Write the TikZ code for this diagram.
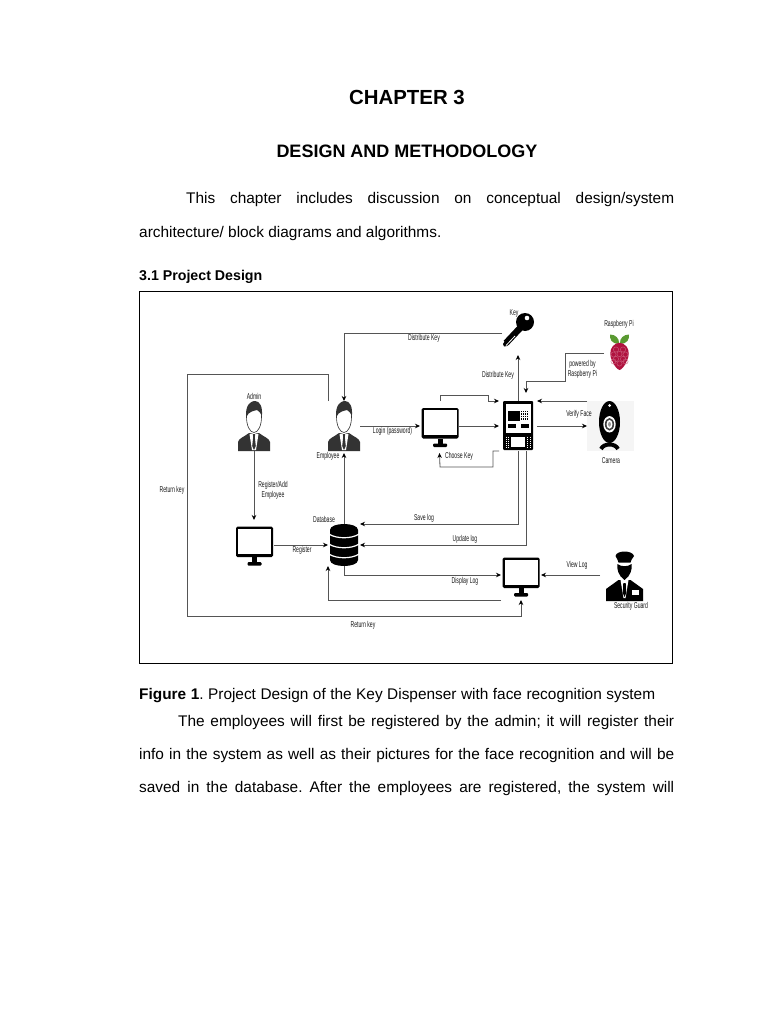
\documentclass[tikz,border=0pt]{standalone}
\usepackage{fontspec}
\setmainfont{Liberation Sans}
\newfontfamily\narrowfont[FakeStretch=0.6]{Liberation Sans}
\usetikzlibrary{positioning, arrows.meta, calc}
\definecolor{suit}{HTML}{333333}
\definecolor{wire}{HTML}{555555}
\definecolor{berry}{HTML}{B0123F}
\definecolor{leaf}{HTML}{5A9A32}
\frenchspacing

% Icons
\tikzset{
  person/.pic={
    \fill [suit] (-16,25) -- (-16,16) .. controls (-15,12) and (-10,11) .. (-5,7) -- (5,7) .. controls (10,11) and (15,12) .. (16,16) -- (16,25) -- cycle;
    \fill [white] (-4.5,8) -- (0,7) -- (4.5,8) -- (2,24) -- (-2,24) -- cycle;
    \fill [suit] (-1.2,8) -- (1.2,8) -- (0.8,11) -- (1.8,20) -- (0,24) -- (-1.8,20) -- (-0.8,11) -- cycle;
    \draw [suit, fill=white, line width=.6] (0,-9) ellipse (7.5 and 15.5);
    \fill [suit] (-7.8,-9) .. controls (-9,-20) and (-4,-25) .. (1,-25) .. controls (6,-25) and (9,-19) .. (7.8,-9) .. controls (7,-13) and (5,-15) .. (3,-16) .. controls (0,-15) and (-5,-15) .. cycle;
  },
  screen/.pic={
    \fill [black, rounded corners=1.5] (-18.5,-19.5) rectangle (18.5,11);
    \fill [white] (-16.5,-17.5) rectangle (16.5,7.5);
    \fill [black] (-2.5,11) rectangle (2.5,16);
    \fill [black, rounded corners=1] (-7,16) rectangle (7,19.5);
  },
  drum/.pic={
    \fill [black] (-14,-15) .. controls (-14,-23) and (14,-23) .. (14,-15) -- (14,15) .. controls (14,23) and (-14,23) .. (-14,15) -- cycle;
    \foreach \rowy in {-11,-1,9} {
      \draw [white, line width=1.2] (-15,\rowy) .. controls (-8,\rowy+5) and (8,\rowy+5) .. (15,\rowy);
    }
  },
  dispenser/.pic={
    \fill [black, rounded corners=1] (-15,-24.5) rectangle (15,24.5);
    \fill [white] (-12.5,-21.5) rectangle (12.5,7);
    \fill [black] (-10,-15) rectangle (2,-5);
    \foreach \dotx in {3,5,7,9} {
      \foreach \doty in {-15,-12.5,-10,-7.5} {
        \fill [black] (\dotx,\doty) rectangle ++(1.3,1.6);
      }
    }
    \fill [black] (-10,-2) rectangle (-2,2);
    \fill [black] (3,-2) rectangle (11,2);
    \fill [white] (-7,11) rectangle (7,21);
    \foreach \dotx in {-12,-9.5,9.5,12} {
      \draw [white, line width=.5, dash pattern=on 1pt off 1pt] (\dotx,11) -- (\dotx,23);
    }
  },
  keyicon/.pic={
    \draw [black, line width=6.5] (4,-5) -- (-12,12);
    \fill [black] (-12.5,9) -- (-15,13) -- (-14,15.5) -- (-11,15) -- (-8,12) -- cycle;
    \draw [white, line width=.8] (-12,14.5) -- (-3,5);
    \fill [black] (7,-9) circle (9);
    \fill [white] (9,-13) circle (2.3);
  },
  berries/.pic={
    \fill [leaf] (-.5,-9) .. controls (-8,-8) and (-10,-14) .. (-9.5,-18) .. controls (-4,-18) and (0,-14) .. (-.5,-9);
    \fill [leaf] (.5,-9) .. controls (8,-8) and (10,-14) .. (9.5,-18) .. controls (4,-18) and (0,-14) .. (.5,-9);
    \fill [berry] (-7,-6) .. controls (-3,-11) and (3,-11) .. (7,-6) .. controls (10,-2) and (10,4) .. (7,9) .. controls (5,14) and (2,17) .. (0,17.5) .. controls (-2,17) and (-5,14) .. (-7,9) .. controls (-10,4) and (-10,-2) .. (-7,-6);
    \foreach \dotx/\doty in {-3.5/-3,3.5/-3,0/1.5,-6/2,6/2,-3.5/6.5,3.5/6.5,0/11,-6/9,6/9} {
      \draw [white!35!berry, line width=.4] (\dotx,\doty) circle (2.6);
    }
  },
  webcam/.pic={
    \fill [black!4] (-23.5,-25) rectangle (23.5,25);
    \draw [black, line width=4] (-9.5,23) .. controls (-7,17) and (5,17) .. (7.5,23);
    \fill [black] (-1,-4) ellipse (10.5 and 21);
    \fill [white] (-1,-20.5) circle (1.5);
    \fill [white] (-1,-1.7) ellipse (6.2 and 8.2);
    \fill [black!75] (-1,-1.7) ellipse (4.6 and 6.3);
    \fill [white] (-1,-1.7) ellipse (3 and 4.4);
    \fill [black!40] (-1,-1.7) ellipse (1.4 and 2.4);
  },
  guard/.pic={
    \fill [black] (-18.5,26) -- (-18.5,14) -- (-6,5) -- (6,5) -- (18.5,14) -- (18.5,26) -- cycle;
    \fill [white] (-4,5) -- (4,5) -- (1,23) -- (-1,23) -- cycle;
    \fill [black] (-1.2,8) -- (1.2,8) -- (1.7,18) -- (0,22) -- (-1.7,18) -- cycle;
    \fill [black] (-7,-11) .. controls (-8,-6) and (-6,1) .. (0,5) .. controls (6,1) and (8,-6) .. (7,-11) .. controls (3,-8) and (-3,-8) .. cycle;
    \fill [black] (-9,-19) .. controls (-8,-25) and (8,-25) .. (9.5,-19) .. controls (8,-16) and (6,-15) .. (6,-12.5) -- (-6,-12.5) .. controls (-6,-15) and (-8,-16) .. cycle;
    \fill [white] (7,15) rectangle (14.5,20);
  }
}

\begin{document}
\begin{tikzpicture}[x=1pt, y=-1pt]
% Define styles
\tikzstyle{iconbox} = [rectangle, inner sep=0pt, outer sep=0pt, minimum width=32pt, minimum height=50pt]
\tikzstyle{arrow} = [line width=.8pt, wire, -{Stealth[length=5pt, width=4.5pt, black]}]
\tikzstyle{tag} = [inner sep=0pt, text=black!90, align=center, font=\narrowfont\fontsize{8.5}{10}\selectfont]
\tikzstyle{bodyline} = [anchor=base west, inner sep=0pt, font=\fontsize{15.4}{18}\selectfont]

\useasboundingbox (0,0) rectangle (768,1024);
\fill [white] (0,0) rectangle (768,1024);

% Page text
\node (chapter) [inner sep=0pt, font=\bfseries\fontsize{20.4}{24}\selectfont] at (407,97) {CHAPTER 3};
\node (heading) [inner sep=0pt, font=\bfseries\fontsize{18}{21}\selectfont] at (407,151) {DESIGN AND METHODOLOGY};
\node (lineone) [bodyline] at (186,204) {\makebox[488pt][s]{This chapter includes discussion on conceptual design/system}};
\node (linetwo) [bodyline] at (139,237) {architecture/ block diagrams and algorithms.};
\node (section) [bodyline, font=\bfseries\fontsize{14.2}{17}\selectfont] at (139,280) {3.1 Project Design};
\node (caption) [bodyline] at (139,699) {\makebox[516pt][s]{\textbf{Figure 1}. Project Design of the Key Dispenser with face recognition system}};
\node (linethree) [bodyline] at (178,726) {\makebox[496pt][s]{The employees will first be registered by the admin; it will register their}};
\node (linefour) [bodyline] at (139,759) {\makebox[535pt][s]{info in the system as well as their pictures for the face recognition and will be}};
\node (linefive) [bodyline] at (139,792) {\makebox[535pt][s]{saved in the database. After the employees are registered, the system will}};

% Figure frame
\node (frame) [draw=black, line width=1pt, inner sep=0pt, minimum width=533pt, minimum height=372pt] at (405.5,477) {};

% Icon places
\node (admin) [iconbox] at (254,426) {};
\node (employee) [iconbox] at (344,426) {};
\node (adminscreen) [iconbox, minimum width=40pt] at (254,545) {};
\node (database) [iconbox, minimum height=42pt] at (344,545) {};
\node (keyscreen) [iconbox, minimum width=39pt, minimum height=54pt] at (439.5,426) {};
\node (kiosk) [iconbox, minimum width=38pt] at (518,426) {};
\node (key) [iconbox, minimum height=44pt] at (518,333) {};
\node (raspberry) [iconbox, minimum width=30pt] at (619,353) {};
\node (camera) [iconbox, minimum width=47pt] at (610.5,426) {};
\node (logscreen) [iconbox, minimum width=40pt] at (521,575) {};
\node (guard) [iconbox, minimum width=49pt] at (624.5,575) {};

% Icons
\pic at (254,426) {person};
\pic at (344,426) {person};
\pic at (254.5,546) {screen};
\pic at (344,545) {drum};
\pic at (440,427.5) {screen};
\pic at (518,425.5) {dispenser};
\pic at (518,331) {keyicon};
\pic at (619.5,352.5) {berries};
\pic at (610.5,426) {webcam};
\pic at (521,577) {screen};
\pic at (624.5,575) {guard};

% Free ends
\coordinate (screentop) at (440,401);
\coordinate (powerend) at (526,393);
\coordinate (updatestart) at (526,451);
\coordinate (looptop) at (187,374);
\coordinate (loopbottom) at (187,616);

% Main flow arrows
\draw [arrow] (admin.south) -- (adminscreen.north);
\draw [arrow] (adminscreen.east) -- (database.west);
\draw [arrow, shorten >=2pt] (database.north) -- (employee.south);
\draw [arrow] (employee.east) -- (keyscreen.west);
\draw [arrow] (keyscreen.east) -- (kiosk.west);
\draw [arrow] (kiosk.east) -- (camera.west);
\draw [arrow] (camera.north west) -- (kiosk.north east);
\draw [arrow] (kiosk.north) -- (key.south);
\draw [arrow] (key.west) -| (employee.north);
\draw [arrow] (guard.west) -- (logscreen.east);

% Connectors with bends
\draw [arrow] (screentop) |- ++(48,-6) -- ++(0,6) -- (kiosk.north west);
\draw [arrow] (kiosk.south west) -- ++(-6,0) |- ++(-53,16) -- (keyscreen.south);
\draw [arrow] (raspberry.west) -| ++(-39,28) -| (powerend);
\draw [arrow] (kiosk.south) |- (database.north east);
\draw [arrow] (updatestart) |- (database.east);
\draw [arrow] (database.south) |- ++(0,9) -- (logscreen.west);
\draw [arrow] (logscreen.south west) -| (database.south west);

% Return key loop
\draw [arrow] (employee.north west) |- (looptop) -- (loopbottom) -| (logscreen.south);

% Labels
\node (adminlabel) [tag] at (254,396) {Admin};
\node (employeelabel) [tag] at (328,456) {Employee};
\node (loginlabel) [tag] at (392.5,431.5) {Login (password)};
\node (keylabel) [tag] at (514,313) {Key};
\node (pilabel) [tag] at (619,324) {Raspberry Pi};
\node (distributetop) [tag] at (424,338) {Distribute Key};
\node (distributeside) [tag] at (498,375) {Distribute Key};
\node (poweredlabel) [tag] at (582.5,369) {powered by\\Raspberry Pi};
\node (verifylabel) [tag] at (579,414) {Verify Face};
\node (cameralabel) [tag] at (611,461) {Camera};
\node (chooselabel) [tag] at (459,456) {Choose Key};
\node (returnside) [tag] at (172,490) {Return key};
\node (registeradd) [tag] at (273,490) {Register/Add\\Employee};
\node (databaselabel) [tag] at (324,519) {Database};
\node (registerlabel) [tag] at (302,550) {Register};
\node (returnbottom) [tag] at (363,625) {Return key};
\node (savelabel) [tag] at (424,518) {Save log};
\node (updatelabel) [tag] at (465,539) {Update log};
\node (displaylabel) [tag] at (465,581) {Display Log};
\node (viewlabel) [tag] at (577,565) {View Log};
\node (guardlabel) [tag] at (631,606) {Security Guard};

\end{tikzpicture}
\end{document}
